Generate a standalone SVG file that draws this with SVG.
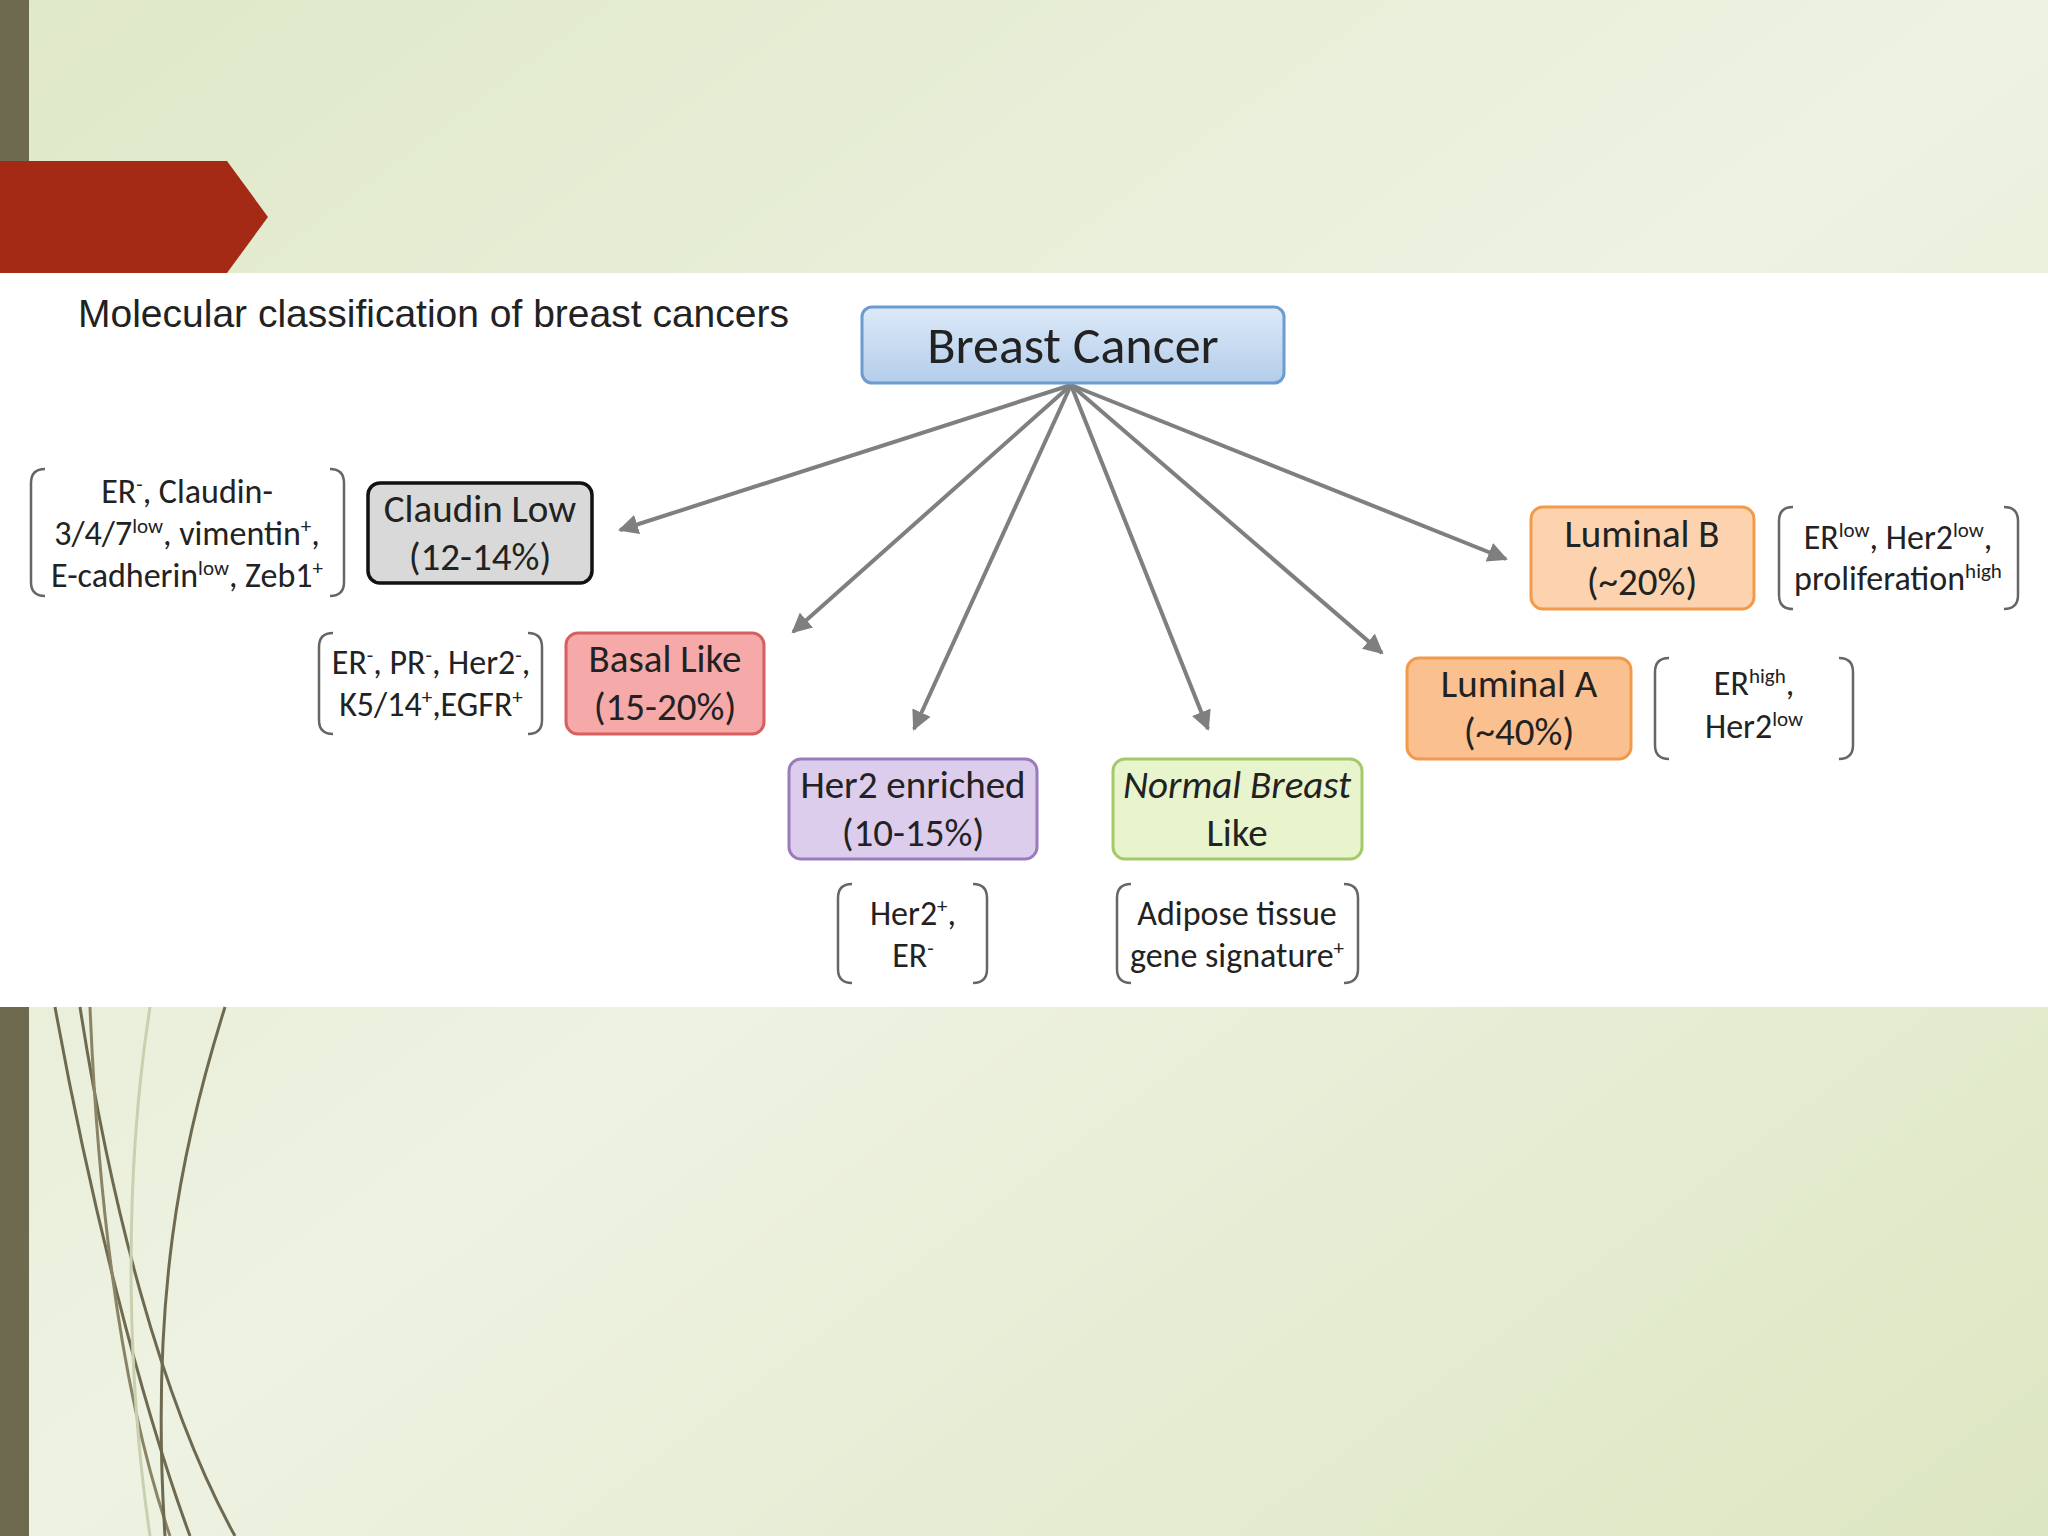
<svg xmlns="http://www.w3.org/2000/svg" width="2048" height="1536" viewBox="0 0 2048 1536">
<defs>
<linearGradient id="bg" x1="0" y1="0" x2="1" y2="1"><stop offset="0" stop-color="#dfe8c8"/><stop offset="0.5" stop-color="#eef2e2"/><stop offset="1" stop-color="#dde6c2"/></linearGradient>
<linearGradient id="blue" x1="0" y1="0" x2="0" y2="1"><stop offset="0" stop-color="#dde9f8"/><stop offset="1" stop-color="#b3cdea"/></linearGradient>
<marker id="ah" viewBox="0 0 10 10" refX="9" refY="5" markerWidth="5" markerHeight="5" orient="auto"><path d="M0,0 L10,5 L0,10 z" fill="#7f7f7f"/></marker>
<style>
.bx{font-family:Calibri,"Open Sans","Liberation Sans",sans-serif;font-size:39px;fill:#222;text-anchor:middle}
.br{font-family:Calibri,"Open Sans","Liberation Sans",sans-serif;font-size:34px;fill:#222;text-anchor:middle}
.br tspan.s{font-size:21px}
.big{font-size:52px}
.bk{fill:none;stroke:#666;stroke-width:2.5}
.ar{stroke:#7f7f7f;stroke-width:4;fill:none;marker-end:url(#ah)}
</style>
</defs>
<rect width="2048" height="1536" fill="url(#bg)"/>
<rect x="0" y="0" width="29" height="1536" fill="#6e6a50"/>
<path d="M0,161 H227 L268,217 L227,273 H0 z" fill="#a52a15"/>
<rect x="0" y="273" width="2048" height="734" fill="#fff"/>
<g fill="none" stroke-width="3">
<path d="M55,1007 C90,1200 140,1400 190,1536" stroke="#6e6a50"/>
<path d="M80,1007 C110,1200 160,1400 235,1536" stroke="#6e6a50"/>
<path d="M90,1007 C100,1250 130,1420 170,1536" stroke="#8a8464"/>
<path d="M225,1007 C180,1150 150,1300 165,1536" stroke="#6e6a50"/>
<path d="M150,1007 C120,1200 130,1400 150,1536" stroke="#c9d0b0"/>
</g>
<text x="78" y="327" font-family="Arial,'Liberation Sans',sans-serif" font-size="39" fill="#222">Molecular classification of breast cancers</text>
<g id="connectors">
<line class="ar" x1="1071" y1="385" x2="620" y2="530"/>
<line class="ar" x1="1071" y1="385" x2="793" y2="632"/>
<line class="ar" x1="1071" y1="385" x2="914" y2="729"/>
<line class="ar" x1="1071" y1="385" x2="1208" y2="729"/>
<line class="ar" x1="1071" y1="385" x2="1382" y2="653"/>
<line class="ar" x1="1071" y1="385" x2="1506" y2="559"/>
</g>
<g id="breast-cancer"><rect x="862" y="307" width="422" height="76" rx="10" fill="url(#blue)" stroke="#6a9bd1" stroke-width="3"/><text class="bx big" x="1073" y="363">Breast Cancer</text></g>
<g id="claudin-low"><rect x="368" y="483" width="224" height="100" rx="12" fill="#d9d9d9" stroke="#111" stroke-width="3.5"/><text class="bx" x="480" y="522">Claudin Low</text><text class="bx" x="480" y="570">(12-14%)</text></g>
<g id="basal-like"><rect x="566" y="633" width="198" height="101" rx="12" fill="#f5a9a9" stroke="#d65f5f" stroke-width="3"/><text class="bx" x="665" y="672">Basal Like</text><text class="bx" x="665" y="720">(15-20%)</text></g>
<g id="her2"><rect x="789" y="759" width="248" height="100" rx="12" fill="#dccdec" stroke="#9a7bbd" stroke-width="3"/><text class="bx" x="913" y="798">Her2 enriched</text><text class="bx" x="913" y="846">(10-15%)</text></g>
<g id="normal"><rect x="1113" y="759" width="249" height="100" rx="12" fill="#e8f4cc" stroke="#a4c96a" stroke-width="3"/><text class="bx" x="1237" y="798" font-style="italic">Normal Breast</text><text class="bx" x="1237" y="846">Like</text></g>
<g id="luminal-a"><rect x="1407" y="658" width="224" height="101" rx="12" fill="#fbc08f" stroke="#f29a4a" stroke-width="3"/><text class="bx" x="1519" y="697">Luminal A</text><text class="bx" x="1519" y="745">(~40%)</text></g>
<g id="luminal-b"><rect x="1531" y="507" width="223" height="102" rx="12" fill="#fcd3ae" stroke="#f29a4a" stroke-width="3"/><text class="bx" x="1642" y="547">Luminal B</text><text class="bx" x="1642" y="595">(~20%)</text></g>
<g id="br-claudin"><path class="bk" d="M45,469 Q31,469 31,483 V582 Q31,596 45,596 M330,469 Q344,469 344,483 V582 Q344,596 330,596"/>
<text class="br" x="187" y="503">ER<tspan class="s" dy="-12">-</tspan><tspan dy="12">, Claudin-</tspan></text>
<text class="br" x="187" y="545">3/4/7<tspan class="s" dy="-12">low</tspan><tspan dy="12">, vimentin</tspan><tspan class="s" dy="-12">+</tspan><tspan dy="12">,</tspan></text>
<text class="br" x="187" y="587">E-cadherin<tspan class="s" dy="-12">low</tspan><tspan dy="12">, Zeb1</tspan><tspan class="s" dy="-12">+</tspan></text></g>
<g id="br-basal"><path class="bk" d="M333,633 Q319,633 319,647 V720 Q319,734 333,734 M528,633 Q542,633 542,647 V720 Q542,734 528,734"/>
<text class="br" x="431" y="674">ER<tspan class="s" dy="-12">-</tspan><tspan dy="12">, PR</tspan><tspan class="s" dy="-12">-</tspan><tspan dy="12">, Her2</tspan><tspan class="s" dy="-12">-</tspan><tspan dy="12">,</tspan></text>
<text class="br" x="431" y="716">K5/14<tspan class="s" dy="-12">+</tspan><tspan dy="12">,EGFR</tspan><tspan class="s" dy="-12">+</tspan></text></g>
<g id="br-her2"><path class="bk" d="M852,884 Q838,884 838,898 V969 Q838,983 852,983 M973,884 Q987,884 987,898 V969 Q987,983 973,983"/>
<text class="br" x="913" y="925">Her2<tspan class="s" dy="-12">+</tspan><tspan dy="12">,</tspan></text>
<text class="br" x="913" y="967">ER<tspan class="s" dy="-12">-</tspan></text></g>
<g id="br-normal"><path class="bk" d="M1131,884 Q1117,884 1117,898 V969 Q1117,983 1131,983 M1344,884 Q1358,884 1358,898 V969 Q1358,983 1344,983"/>
<text class="br" x="1237" y="925">Adipose tissue</text>
<text class="br" x="1237" y="967">gene signature<tspan class="s" dy="-12">+</tspan></text></g>
<g id="br-luma"><path class="bk" d="M1669,658 Q1655,658 1655,672 V745 Q1655,759 1669,759 M1839,658 Q1853,658 1853,672 V745 Q1853,759 1839,759"/>
<text class="br" x="1754" y="695">ER<tspan class="s" dy="-12">high</tspan><tspan dy="12">,</tspan></text>
<text class="br" x="1754" y="738">Her2<tspan class="s" dy="-12">low</tspan></text></g>
<g id="br-lumb"><path class="bk" d="M1793,507 Q1779,507 1779,521 V595 Q1779,609 1793,609 M2004,507 Q2018,507 2018,521 V595 Q2018,609 2004,609"/>
<text class="br" x="1898" y="549">ER<tspan class="s" dy="-12">low</tspan><tspan dy="12">, Her2</tspan><tspan class="s" dy="-12">low</tspan><tspan dy="12">,</tspan></text>
<text class="br" x="1898" y="590">proliferation<tspan class="s" dy="-12">high</tspan></text></g>
</svg>
